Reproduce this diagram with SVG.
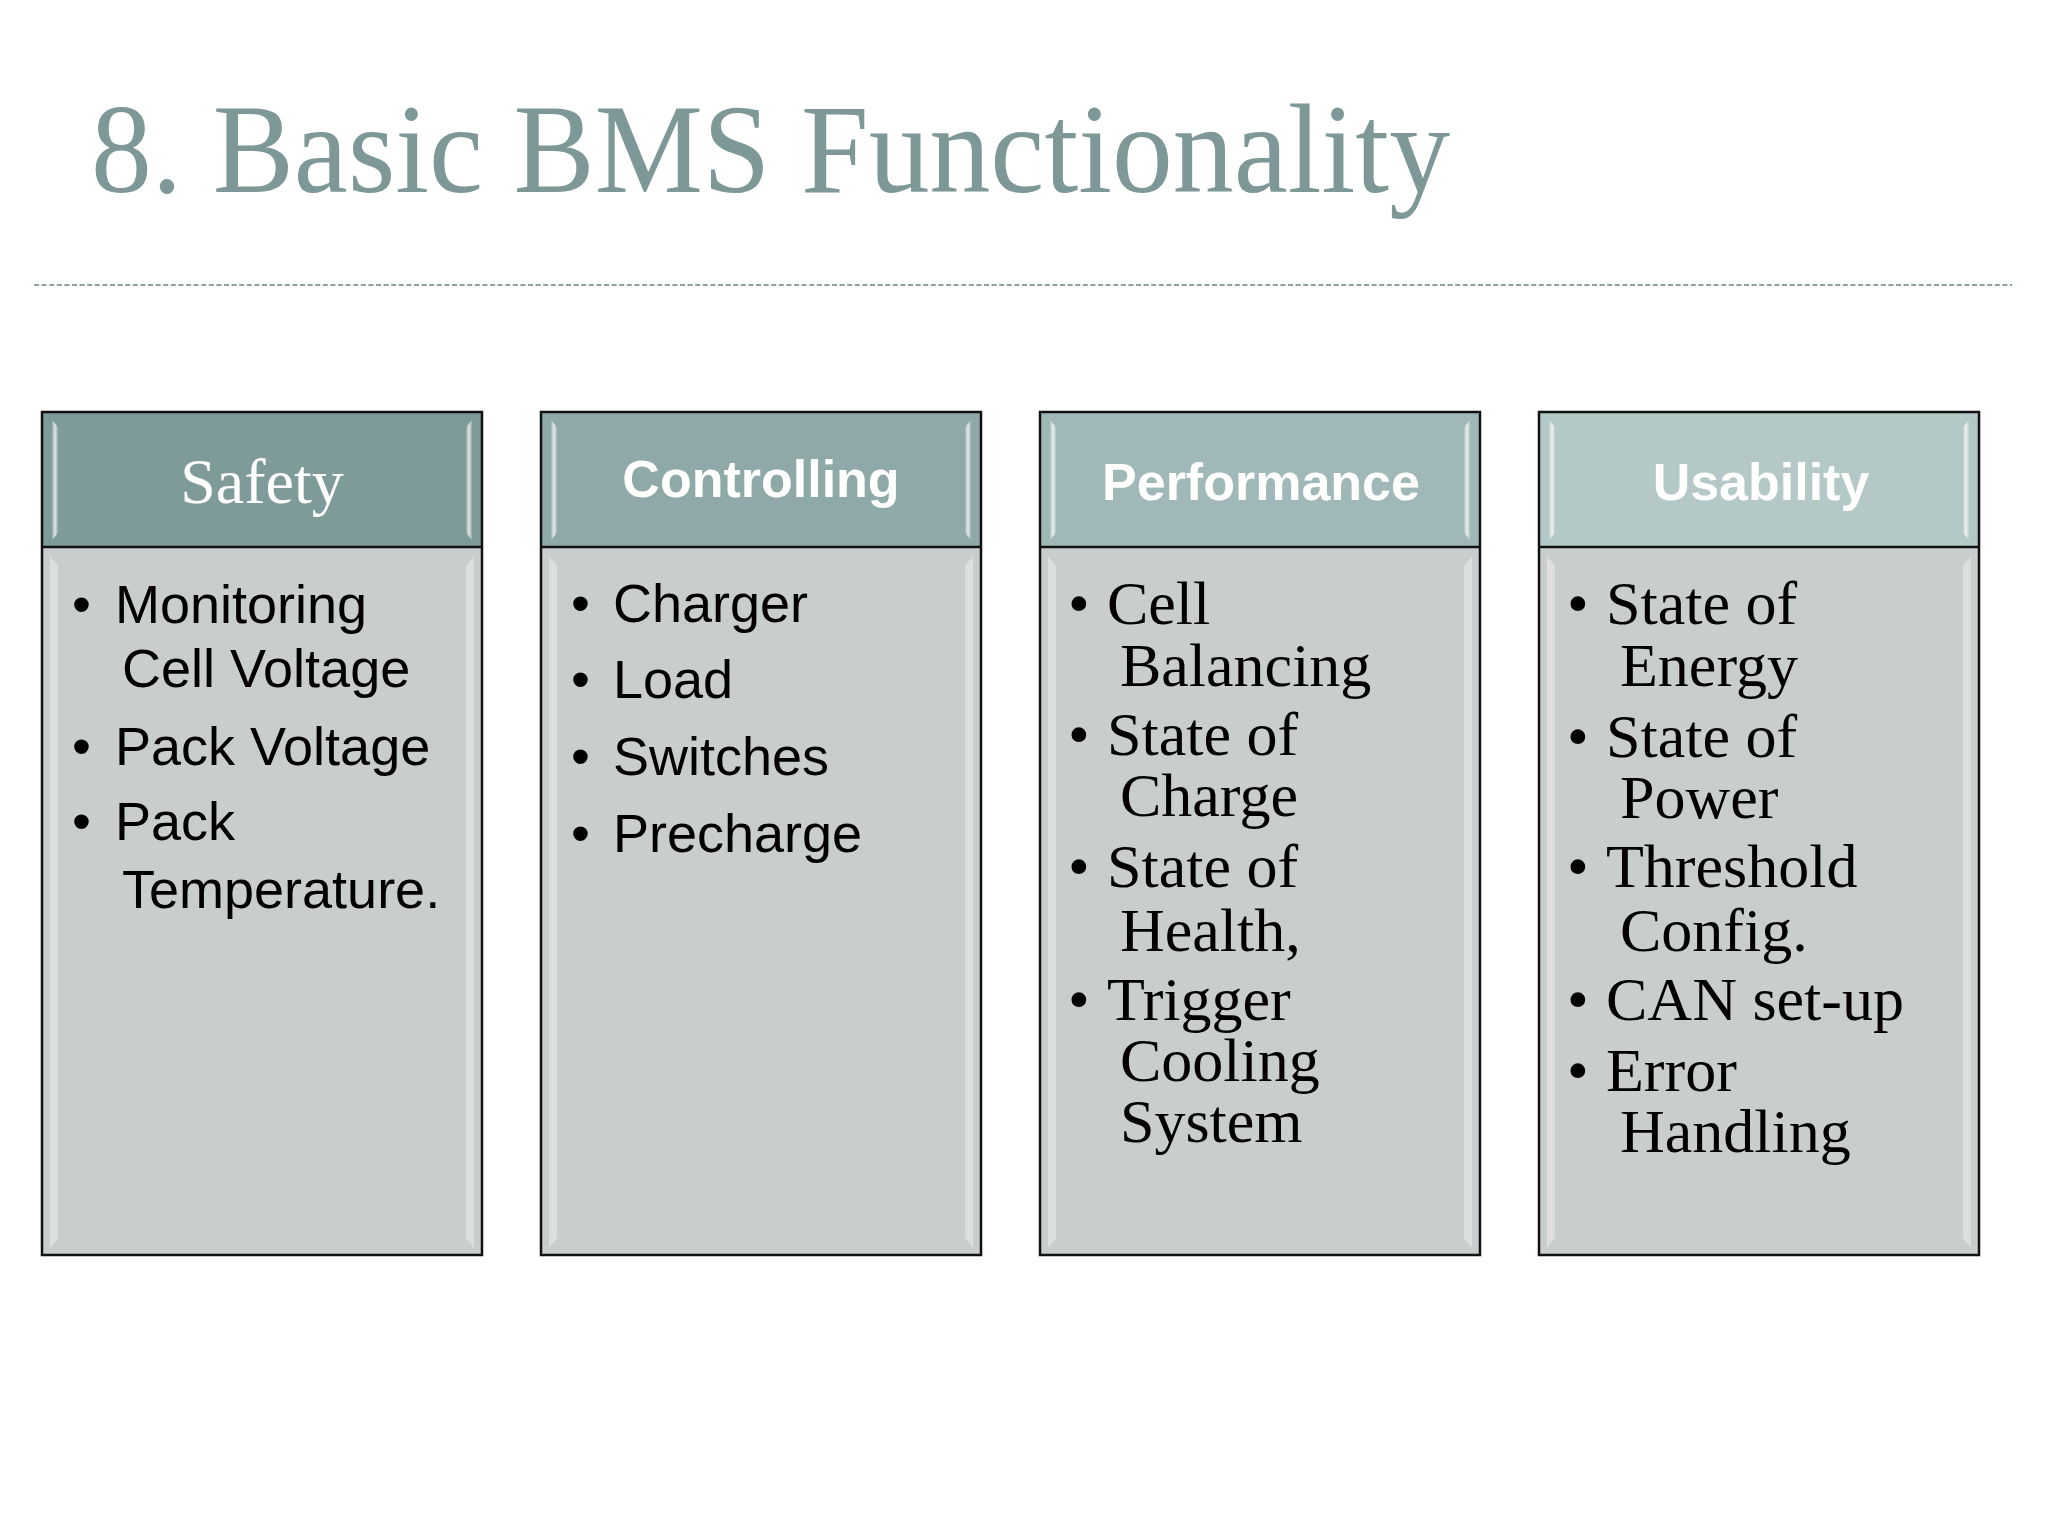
<svg xmlns="http://www.w3.org/2000/svg" width="2048" height="1536" viewBox="0 0 2048 1536">
<style>
.title{font-family:"Liberation Serif",serif;font-size:126px;fill:#7d9896}
.hdrSerif{font-family:"Liberation Serif",serif;font-size:64px;fill:#ffffff}
.hdrSans{font-family:"Liberation Sans",Arial,sans-serif;font-weight:bold;font-size:52px;fill:#ffffff}
.bodySans{font-family:"Liberation Sans",Arial,sans-serif;font-size:54px;fill:#000000}
.bodySerif{font-family:"Liberation Serif",serif;font-size:62px;fill:#000000}
.frame{fill:none;stroke:#111111;stroke-width:2.5}
.body{fill:#c9cdce}
.hlb{fill:#ffffff;opacity:0.35}
.div{stroke:#111111;stroke-width:2.5}
</style>
<defs>
<linearGradient id="hgl" x1="0" y1="0" x2="1" y2="0">
<stop offset="0" stop-color="#ffffff" stop-opacity="0.15"/>
<stop offset="0.5" stop-color="#ffffff" stop-opacity="0.75"/>
<stop offset="1" stop-color="#ffffff" stop-opacity="0.15"/>
</linearGradient>
</defs>
<rect x="0" y="0" width="2048" height="1536" fill="#ffffff"/>
<text class="title" x="91" y="192" textLength="1359" lengthAdjust="spacingAndGlyphs">8. Basic BMS Functionality</text>
<line x1="34" y1="285" x2="2012" y2="285" stroke="#8aa3a1" stroke-width="2" stroke-dasharray="5 2.6"/>

<g id="connectors"></g>

<g id="safety">
<rect x="42" y="412" width="440" height="135" fill="#7e9b99"/>
<rect x="42" y="547" width="440" height="708" class="body"/>
<path d="M52 420 L58 427 L58 533 L52 540 Z" fill="url(#hgl)"/>
<path d="M472 420 L466 427 L466 533 L472 540 Z" fill="url(#hgl)"/>
<path d="M50 556 L58 566 L58 1238 L50 1248 Z" class="hlb"/>
<path d="M474 556 L466 566 L466 1238 L474 1248 Z" class="hlb"/>
<rect x="42" y="412" width="440" height="843" class="frame"/>
<line x1="42" y1="547" x2="482" y2="547" class="div"/>
<text class="hdrSerif" x="262" y="503" text-anchor="middle">Safety</text>
<text class="bodySans">
<tspan x="72" y="623">•</tspan><tspan x="115" y="623">Monitoring</tspan>
<tspan x="122" y="687">Cell Voltage</tspan>
<tspan x="72" y="765">•</tspan><tspan x="115" y="765">Pack Voltage</tspan>
<tspan x="72" y="840">•</tspan><tspan x="115" y="840">Pack</tspan>
<tspan x="122" y="908">Temperature.</tspan>
</text>
</g>

<g id="controlling">
<rect x="541" y="412" width="440" height="135" fill="#8fa9a8"/>
<rect x="541" y="547" width="440" height="708" class="body"/>
<path d="M551 420 L557 427 L557 533 L551 540 Z" fill="url(#hgl)"/>
<path d="M971 420 L965 427 L965 533 L971 540 Z" fill="url(#hgl)"/>
<path d="M549 556 L557 566 L557 1238 L549 1248 Z" class="hlb"/>
<path d="M973 556 L965 566 L965 1238 L973 1248 Z" class="hlb"/>
<rect x="541" y="412" width="440" height="843" class="frame"/>
<line x1="541" y1="547" x2="981" y2="547" class="div"/>
<text class="hdrSans" x="761" y="497" text-anchor="middle">Controlling</text>
<text class="bodySans">
<tspan x="571" y="622">•</tspan><tspan x="613" y="622">Charger</tspan>
<tspan x="571" y="698">•</tspan><tspan x="613" y="698">Load</tspan>
<tspan x="571" y="775">•</tspan><tspan x="613" y="775">Switches</tspan>
<tspan x="571" y="852">•</tspan><tspan x="613" y="852">Precharge</tspan>
</text>
</g>

<g id="performance">
<rect x="1040" y="412" width="440" height="135" fill="#a1b8b8"/>
<rect x="1040" y="547" width="440" height="708" class="body"/>
<path d="M1050 420 L1056 427 L1056 533 L1050 540 Z" fill="url(#hgl)"/>
<path d="M1470 420 L1464 427 L1464 533 L1470 540 Z" fill="url(#hgl)"/>
<path d="M1048 556 L1056 566 L1056 1238 L1048 1248 Z" class="hlb"/>
<path d="M1472 556 L1464 566 L1464 1238 L1472 1248 Z" class="hlb"/>
<rect x="1040" y="412" width="440" height="843" class="frame"/>
<line x1="1040" y1="547" x2="1480" y2="547" class="div"/>
<text class="hdrSans" x="1261" y="500" text-anchor="middle">Performance</text>
<text class="bodySerif">
<tspan x="1068" y="624">•</tspan><tspan x="1107" y="624">Cell</tspan>
<tspan x="1120" y="686">Balancing</tspan>
<tspan x="1068" y="755">•</tspan><tspan x="1107" y="755">State of</tspan>
<tspan x="1120" y="816">Charge</tspan>
<tspan x="1068" y="887">•</tspan><tspan x="1107" y="887">State of</tspan>
<tspan x="1120" y="951">Health,</tspan>
<tspan x="1068" y="1020">•</tspan><tspan x="1107" y="1020">Trigger</tspan>
<tspan x="1120" y="1081">Cooling</tspan>
<tspan x="1120" y="1142">System</tspan>
</text>
</g>

<g id="usability">
<rect x="1539" y="412" width="440" height="135" fill="#b4c8c8"/>
<rect x="1539" y="547" width="440" height="708" class="body"/>
<path d="M1549 420 L1555 427 L1555 533 L1549 540 Z" fill="url(#hgl)"/>
<path d="M1969 420 L1963 427 L1963 533 L1969 540 Z" fill="url(#hgl)"/>
<path d="M1547 556 L1555 566 L1555 1238 L1547 1248 Z" class="hlb"/>
<path d="M1971 556 L1963 566 L1963 1238 L1971 1248 Z" class="hlb"/>
<rect x="1539" y="412" width="440" height="843" class="frame"/>
<line x1="1539" y1="547" x2="1979" y2="547" class="div"/>
<text class="hdrSans" x="1761" y="500" text-anchor="middle">Usability</text>
<text class="bodySerif">
<tspan x="1567" y="624">•</tspan><tspan x="1606" y="624">State of</tspan>
<tspan x="1620" y="686">Energy</tspan>
<tspan x="1567" y="757">•</tspan><tspan x="1606" y="757">State of</tspan>
<tspan x="1620" y="818">Power</tspan>
<tspan x="1567" y="887">•</tspan><tspan x="1606" y="887">Threshold</tspan>
<tspan x="1620" y="951">Config.</tspan>
<tspan x="1567" y="1020">•</tspan><tspan x="1606" y="1020">CAN set-up</tspan>
<tspan x="1567" y="1091">•</tspan><tspan x="1606" y="1091">Error</tspan>
<tspan x="1620" y="1152">Handling</tspan>
</text>
</g>
</svg>
